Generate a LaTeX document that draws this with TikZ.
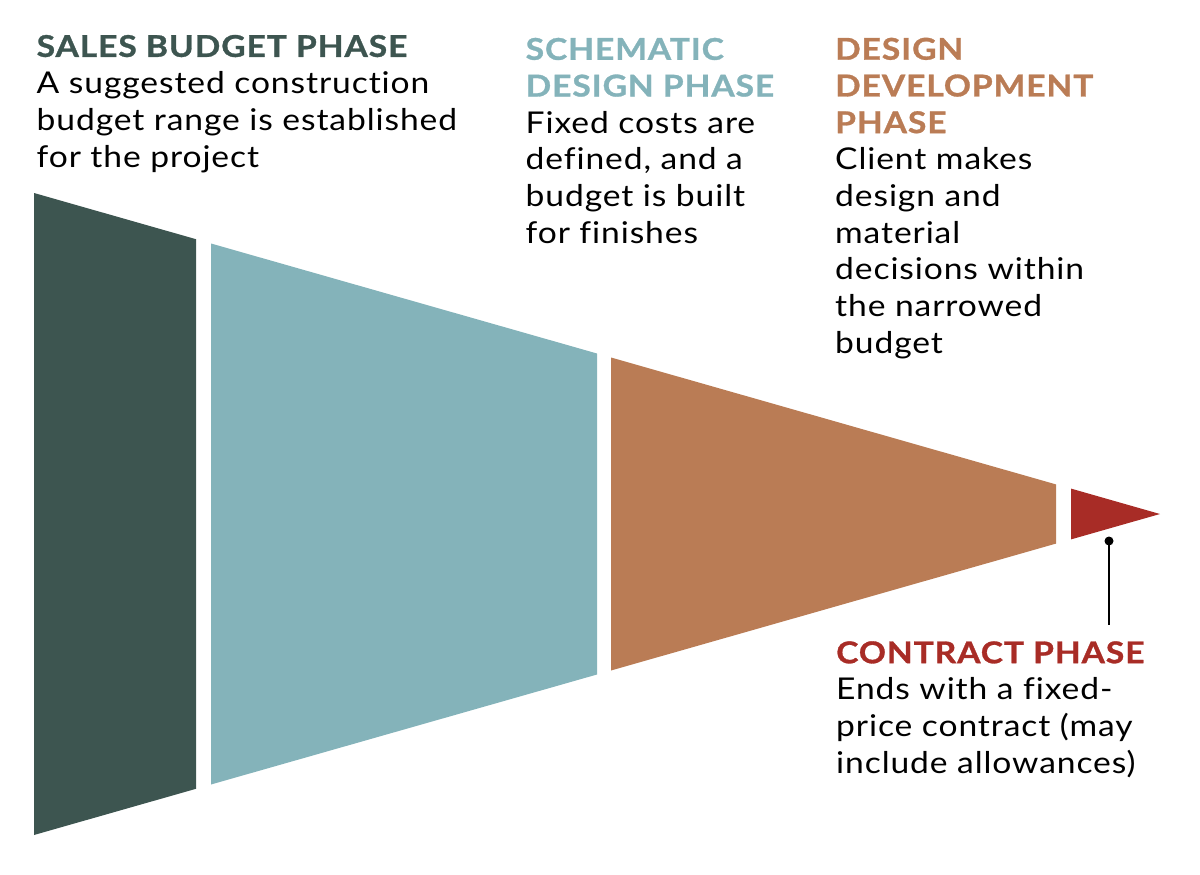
\documentclass[tikz,border=0pt]{standalone}
\usepackage{fontspec}
\setmainfont{Lato}[FakeStretch=1.12,LetterSpace=3,Ligatures=NoCommon,BoldFeatures={FakeBold=1}]
\definecolor{dkgreen}{HTML}{3D5550}
\definecolor{ltblue}{HTML}{84B3BA}
\definecolor{brown}{HTML}{BA7C55}
\definecolor{cred}{HTML}{A82C26}
\begin{document}
\begin{tikzpicture}[x=1pt,y=-1pt,
  txt/.style={anchor=base west, inner sep=0pt, align=left, font=\fontsize{30}{36.7}\selectfont}]
\useasboundingbox (0,0) rectangle (1200,875);
% funnel pieces
\fill[dkgreen] (34,193) -- (196,239.2) -- (196,788.8) -- (34,835) -- cycle;
\fill[ltblue] (211,243.5) -- (597,353.5) -- (597,674.5) -- (211,784.5) -- cycle;
\fill[brown] (611,357.5) -- (1056,484.4) -- (1056,543.6) -- (611,670.5) -- cycle;
\fill[cred] (1071,488.6) -- (1160,514) -- (1071,539.4) -- cycle;
% texts (anchored at the baseline of the last line)
\node[txt] (sales) at (36.5,167) {\textcolor{dkgreen}{\bfseries SALES BUDGET PHASE}\\A suggested construction\\budget range is established\\for the project};
\node[txt] (schem) at (525.5,243.3) {\textcolor{ltblue}{\bfseries SCHEMATIC}\\\textcolor{ltblue}{\bfseries DESIGN PHASE}\\Fixed costs are\\defined, and a\\budget is built\\for finishes};
\node[txt] (devel) at (835,353.3) {\textcolor{brown}{\bfseries DESIGN}\\\textcolor{brown}{\bfseries DEVELOPMENT}\\\textcolor{brown}{\bfseries PHASE}\\Client makes\\design and\\material\\decisions within\\the narrowed\\budget};
\node[txt] (contract) at (836,773.3) {\textcolor{cred}{\bfseries CONTRACT PHASE}\\Ends with a fixed-\\price contract (may\\include allowances)};
% pointer
\coordinate (dot) at (1109,541);
\coordinate (lineend) at (1109,625);
\draw[line width=2pt] (dot) -- (lineend);
\fill (dot) circle (4.5);
\end{tikzpicture}
\end{document}
